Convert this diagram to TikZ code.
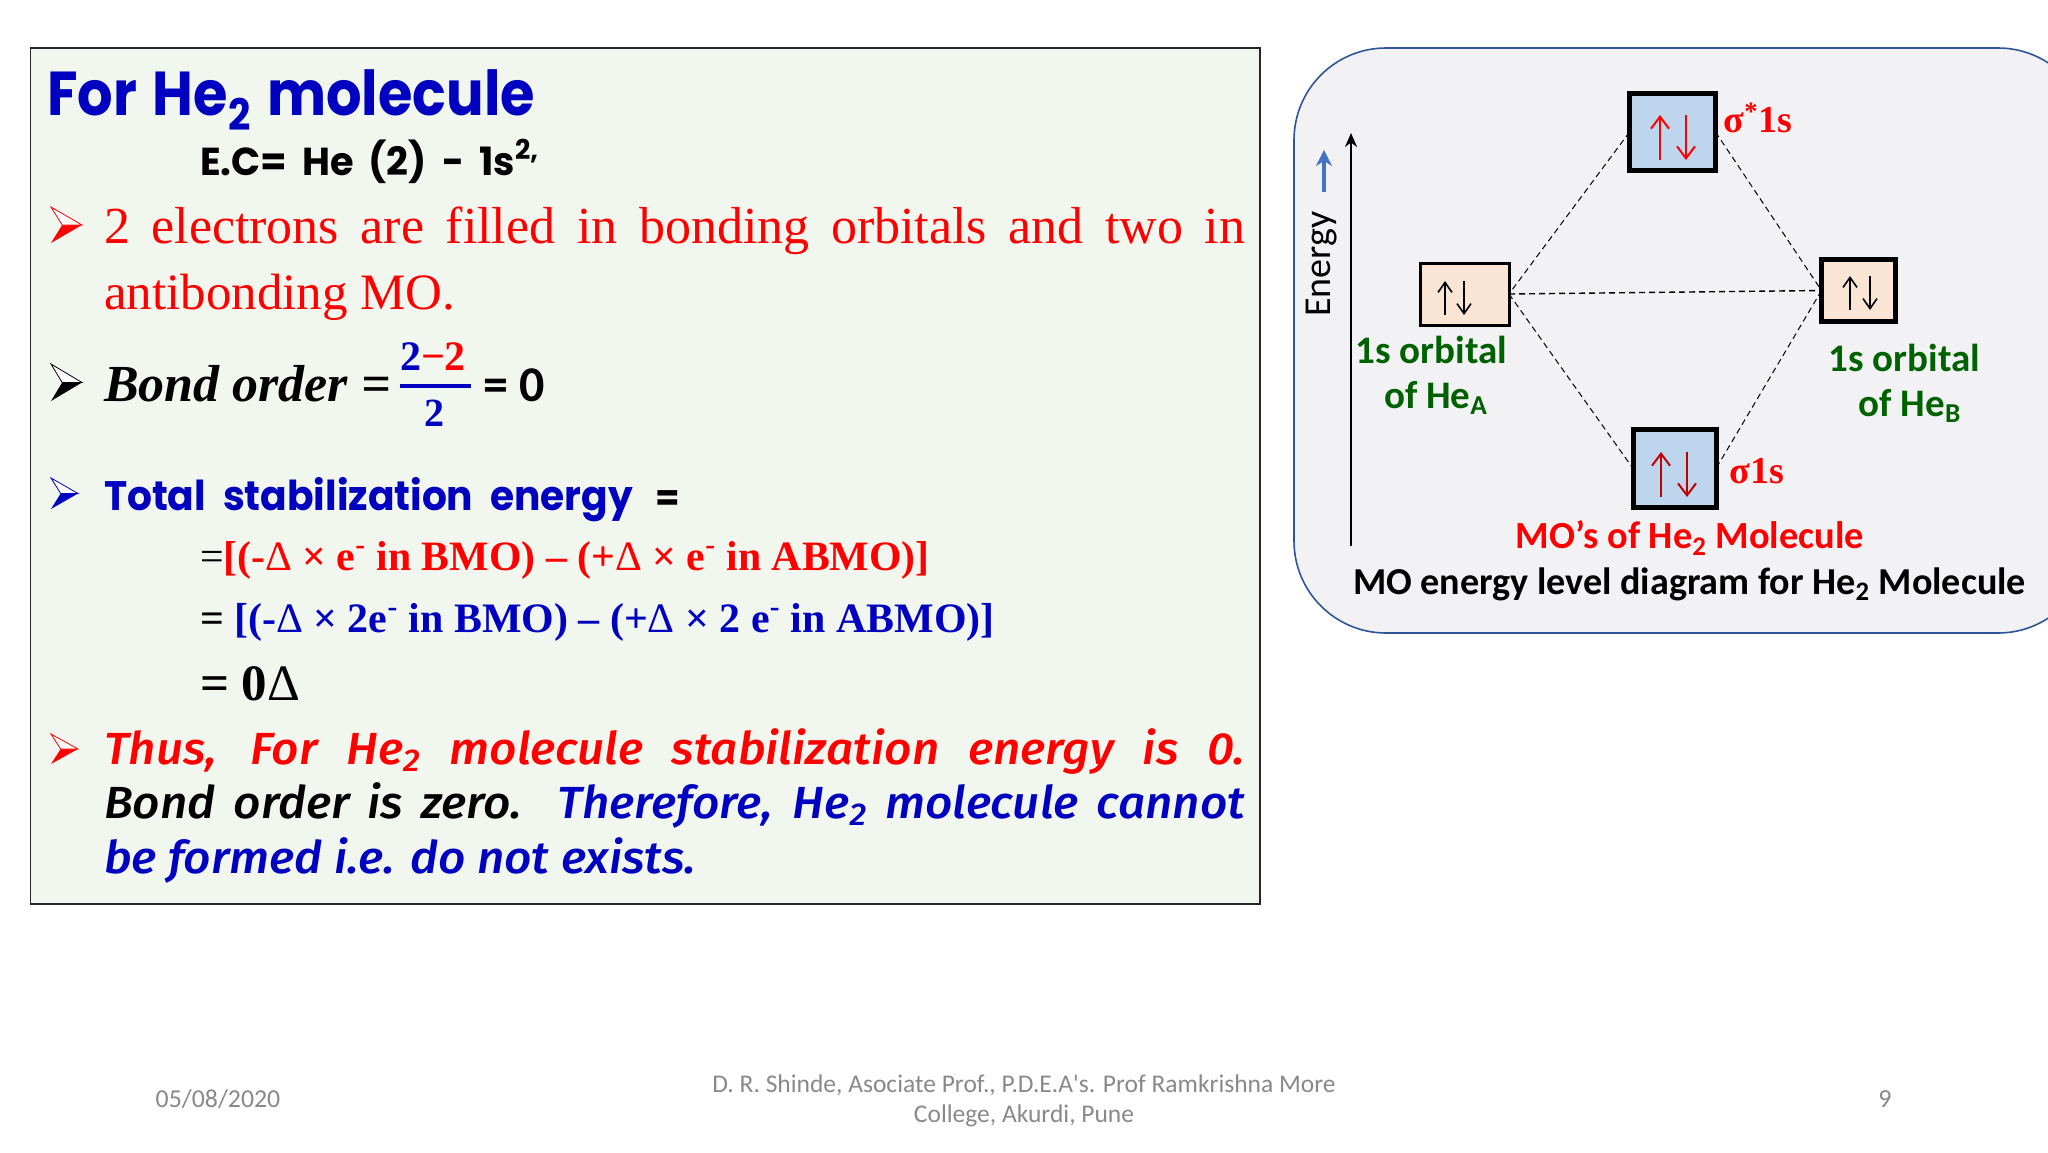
\documentclass[tikz,border=0pt]{standalone}
\usepackage{fontspec}
\usetikzlibrary{arrows.meta}
\setmainfont{Liberation Serif}
\newfontfamily\comic[FakeStretch=0.9]{Poppins}
\newfontfamily\comicb[FakeStretch=0.98]{Poppins}
\newfontfamily\comicc[FakeStretch=0.95]{Poppins}
\newfontfamily\hand[FakeStretch=1.06,ItalicFont={Fira Sans Medium Italic}]{Fira Sans}
\newfontfamily\clb{Carlito}
\definecolor{pblue}{RGB}{0,0,192}
\definecolor{pred}{RGB}{255,0,0}
\definecolor{pgreen}{RGB}{0,97,0}
\definecolor{dred}{RGB}{192,0,0}
\definecolor{mofill}{RGB}{189,214,238}
\definecolor{aofill}{RGB}{250,229,213}
\definecolor{panelg}{RGB}{241,246,238}
\definecolor{panelr}{RGB}{242,242,245}
\definecolor{edgeb}{RGB}{47,85,151}
\definecolor{arrowb}{RGB}{68,114,196}
\definecolor{foot}{RGB}{137,137,137}
\newcommand\fs[1]{\fontsize{#1}{#1}\selectfont}
\newcommand\dlt{{\mdseries Δ}}
\newcommand\bullarrow[5]{%
  \fill[#5] (#1,{#2+#4}) -- ({#1+#3},{#2+#4/2}) -- ({#1+0.36*#3},{#2+#4/2}) -- cycle;
  \draw[#5,line width=0.4pt,line join=miter,fill=white] (#1,#2) -- ({#1+#3},{#2+#4/2}) -- ({#1+0.36*#3},{#2+#4/2}) -- cycle;
}
\tikzset{
  txt/.style={anchor=base west,inner sep=0pt,outer sep=0pt},
  mid/.style={anchor=center,inner sep=0pt,outer sep=0pt,align=center},
  mobox/.style={draw=black,fill=mofill,line width=2.5pt,inner sep=0pt,outer sep=0pt},
  aobox/.style={draw=black,fill=aofill,inner sep=0pt,outer sep=0pt},
  link/.style={black,line width=0.5pt,dash pattern=on 3pt off 2pt},
  spin/.style={line width=1pt,-{Straight Barb[length=6pt,width=9pt,line width=1pt]}},
  spinb/.style={line width=0.8pt,-{Straight Barb[length=5pt,width=7pt,line width=0.8pt]}},
}
\begin{document}
\begin{tikzpicture}[x=0.5pt,y=-0.5pt]
\useasboundingbox (0,0) rectangle (2048,1152);
\fill[white] (0,0) rectangle (2048,1152);
% left panel
\draw[black!85,fill=panelg,line width=0.7pt] (30.5,48) rectangle (1260,904);
\node[txt,pblue] (title) at (47,115) {\comic\bfseries\fs{31}\makebox[244pt][s]{For He\textsubscript{2} molecule}};
\node[txt,black] (ec) at (200,175) {\comicb\bfseries\fs{19.5}\makebox[169.5pt][s]{E.C= He (2) - 1s\textsuperscript{2,}}};
\bullarrow{51}{207}{31}{36}{pred}
\node[txt,pred] (l1) at (104,243) {\fs{26}\makebox[570.5pt][s]{2 electrons are filled in bonding orbitals and two in}};
\node[txt,pred] (l2) at (104,309) {\fs{25.5}antibonding MO.};
\bullarrow{51}{364}{31}{37}{black}
\node[txt,black] (bo) at (104,401) {\fs{26}\bfseries\itshape Bond order =};
\node[txt] (fn) at (400,370) {\fs{21}\bfseries\textcolor{pblue}{2}\textcolor{pred}{−2}};
\coordinate (fa) at (400,386);
\coordinate (fb) at (471,386);
\draw[pblue,line width=1.6pt] (fa) -- (fb);
\node[anchor=base,inner sep=0pt,pblue] (fd) at (434,426) {\fs{20}\bfseries 2};
\node[txt,black] (eq0) at (483,401) {\clb\bfseries\fs{25}= 0};
\bullarrow{51}{478}{27}{31}{pblue}
\node[txt,pblue] (tse) at (104,510) {\comicc\bfseries\fs{20.6}\makebox[264.5pt][s]{Total stabilization energy}};
\node[txt,black] (tseq) at (655,510) {\comicb\bfseries\fs{18}=};
\node[txt] (e1) at (200,570) {\fs{20.9}\textcolor{black}{=}\bfseries\textcolor{pred}{[(-\dlt{} × e\textsuperscript{-} in BMO) – (+\dlt{} × e\textsuperscript{-} in ABMO)]}};
\node[txt] (e2) at (200,632) {\fs{20.95}\bfseries\textcolor{black}{=} \textcolor{pblue}{[(-\dlt{} × 2e\textsuperscript{-} in BMO) – (+\dlt{} × 2 e\textsuperscript{-} in ABMO)]}};
\node[txt,black] (e3) at (200,700) {\fs{25.5}\bfseries = 0\dlt};
\bullarrow{51}{734}{27}{30}{pred}
\node[txt,pred] (t1) at (104,764) {\hand\itshape\fs{22.5}\makebox[570.5pt][s]{Thus, For He\textsubscript{2} molecule stabilization energy is 0.}};
\node[txt] (t2) at (104,818) {\hand\itshape\fs{22.5}\makebox[570.5pt][s]{\textcolor{black}{Bond order is zero.} \textcolor{pblue}{Therefore, He\textsubscript{2} molecule cannot}}};
\node[txt,pblue] (t3) at (104,873) {\hand\itshape\fs{22.5}be formed i.e. do not exists.};
% right panel
\draw[edgeb,fill=panelr,line width=0.8pt,rounded corners=46pt] (1294,48) rectangle (2090,633);
\coordinate (ea) at (1351,546);
\coordinate (eb) at (1351,133);
\draw[black,line width=1.2pt,-{Stealth[length=7pt,width=6pt]}] (ea) -- (eb);
\coordinate (ba) at (1324,192);
\coordinate (bb) at (1324,150);
\draw[arrowb,line width=2.4pt,-{Stealth[length=8pt,width=8pt]}] (ba) -- (bb);
\node[mid,rotate=90,black] (energy) at (1322,264) {\clb\fs{19}Energy};
\node[mobox,minimum width=43pt,minimum height=38.5pt] (tbox) at (1672.5,132) {};
\node[mobox,minimum width=41.5pt,minimum height=39pt] (bbox) at (1674.5,468.5) {};
\node[aobox,line width=1.5pt,minimum width=44.5pt,minimum height=31pt] (lbox) at (1464.5,294) {};
\node[aobox,line width=2.5pt,minimum width=37pt,minimum height=31pt] (rbox) at (1858.5,290.5) {};
\draw[link] (tbox.west) -- (lbox.east);
\draw[link] (lbox.east) -- (bbox.west);
\draw[link] (tbox.east) -- (rbox.west);
\draw[link] (rbox.west) -- (bbox.east);
\draw[link,line width=0.7pt] (lbox.east) -- (rbox.west);
% spin arrows
\coordinate (t1a) at (1660,160); \coordinate (t1b) at (1660,115);
\coordinate (t2a) at (1686,115); \coordinate (t2b) at (1686,160);
\draw[spin,pred] (t1a) -- (t1b);
\draw[spin,pred] (t2a) -- (t2b);
\coordinate (b1a) at (1661,497); \coordinate (b1b) at (1661,452);
\coordinate (b2a) at (1687,452); \coordinate (b2b) at (1687,497);
\draw[spin,dred] (b1a) -- (b1b);
\draw[spin,dred] (b2a) -- (b2b);
\coordinate (l1a) at (1445,315); \coordinate (l1b) at (1445,281);
\coordinate (l2a) at (1464,281); \coordinate (l2b) at (1464,315);
\draw[spinb] (l1a) -- (l1b);
\draw[spinb] (l2a) -- (l2b);
\coordinate (r1a) at (1850,310); \coordinate (r1b) at (1850,276);
\coordinate (r2a) at (1870,276); \coordinate (r2b) at (1870,310);
\draw[spinb] (r1a) -- (r1b);
\draw[spinb] (r2a) -- (r2b);
% labels
\node[mid,pred] (ss) at (1758,118) {\bfseries\fs{19}σ\textsuperscript{*}1s};
\node[mid,pred] (s) at (1757,471) {\bfseries\fs{19}σ1s};
\node[mid,pgreen] (la) at (1431.5,350) {\clb\bfseries\fs{19.5}1s orbital};
\node[mid,pgreen] (lb) at (1436,398) {\clb\bfseries\fs{19.5}of He\textsubscript{A}};
\node[mid,pgreen] (ra) at (1904.5,358) {\clb\bfseries\fs{19.5}1s orbital};
\node[mid,pgreen] (rb) at (1910,406) {\clb\bfseries\fs{19.5}of He\textsubscript{B}};
\node[mid,pred] (mo) at (1690,538) {\clb\bfseries\fs{19.2}MO’s of He\textsubscript{2} Molecule};
\node[mid,black] (cap) at (1689.5,584) {\clb\bfseries\fs{19.05}MO energy level diagram for He\textsubscript{2} Molecule};
% footer
\node[mid,foot] (date) at (218,1099) {\clb\fs{12.9}05/08/2020};
\node[mid,foot] (f1) at (1024,1085) {\clb\fs{12.75}D. R. Shinde, Asociate Prof., P.D.E.A's. Prof Ramkrishna More};
\node[mid,foot] (f2) at (1024,1116) {\clb\fs{12.75}College, Akurdi, Pune};
\node[mid,foot] (pg) at (1885,1099) {\clb\fs{13}9};
\end{tikzpicture}
\end{document}
